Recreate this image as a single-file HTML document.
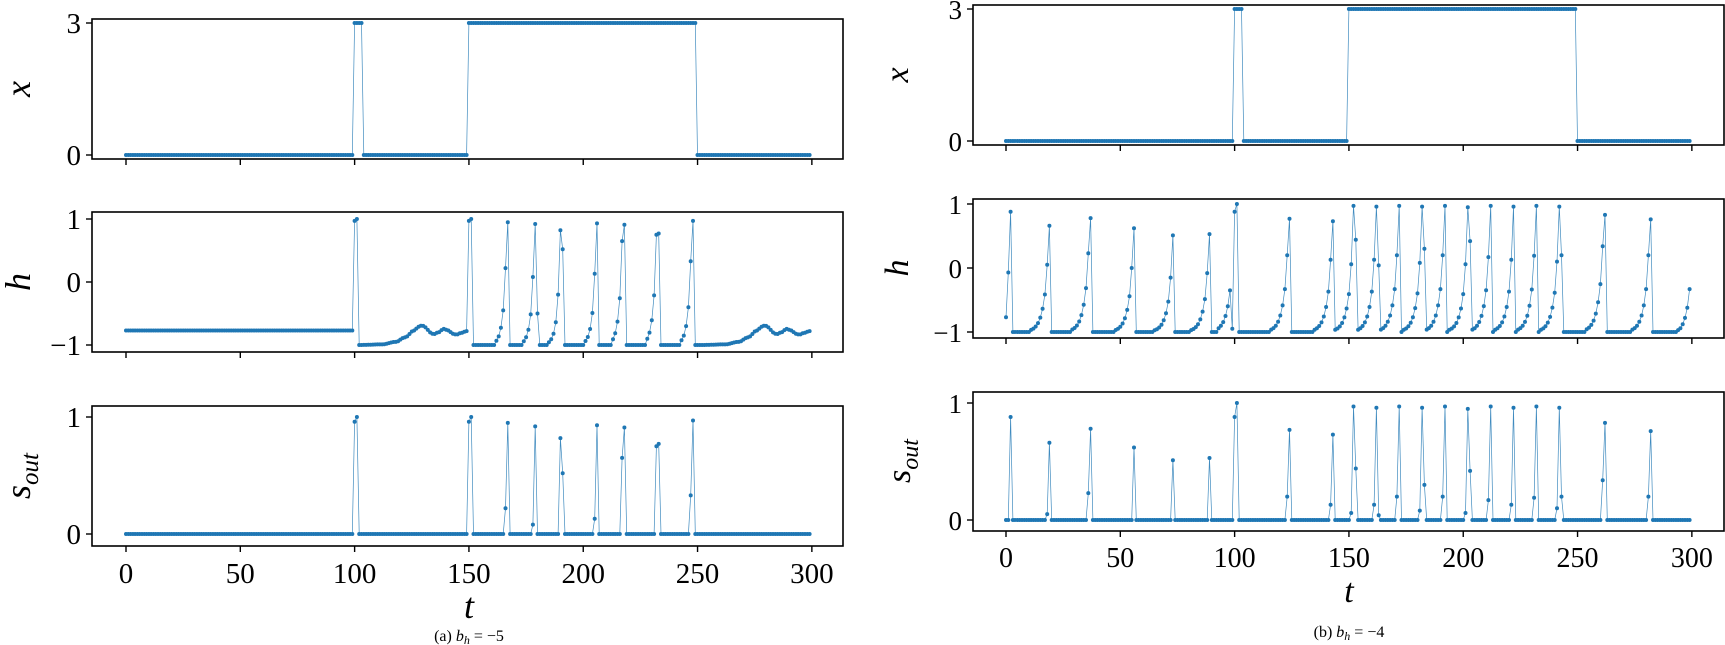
<!DOCTYPE html>
<html><head><meta charset="utf-8">
<style>
html,body{margin:0;padding:0;background:#fff;}
body{width:1725px;height:645px;overflow:hidden;}
svg{display:block;}
text{font-family:"Liberation Serif","DejaVu Serif",serif;fill:#000;}
</style></head>
<body>
<svg id="s" width="1725" height="645" viewBox="0 0 1725 645" xmlns="http://www.w3.org/2000/svg"></svg>
<script>
var C='#1f77b4';
var out=[];
var xL=[],hL=[],xR=[],hR=[];
for(var t=0;t<300;t++){
  var v=0;
  if(t>=100&&t<=103)v=3;
  if(t>=150&&t<=249)v=3;
  xL.push(v);xR.push(v);
}
var kp=[[102,-1],[112,-0.99],[118,-0.95],[122,-0.88],[126,-0.77],[128,-0.71],[129.5,-0.69],[131,-0.72],[133,-0.8],[134.5,-0.83],[136.5,-0.8],[139,-0.745],[141,-0.77],[143,-0.82],[144.5,-0.835],[146.5,-0.81],[149,-0.78]];
function interp(tt){
  if(tt<=kp[0][0])return -1;
  for(var i=1;i<kp.length;i++){if(tt<=kp[i][0]){var a=kp[i-1],b=kp[i];var f=(tt-a[0])/(b[0]-a[0]);f=(1-Math.cos(Math.PI*f))/2;return a[1]+(b[1]-a[1])*f;}}
  return kp[kp.length-1][1];
}
for(var t=0;t<300;t++){
  var h;
  if(t<100)h=-0.77;
  else {var t0=(t<150)?0:150; h=interp(t-t0);}
  hL.push(h);
}
for(var t=150;t<250;t++)hL[t]=-1;
hL[100]=0.97;hL[101]=1.0;hL[150]=0.97;hL[151]=1.0;
function addSpike(arr,T,peak,pre,post,fac,n){
  fac=fac||0.5;n=n||6;
  arr[T]=peak;
  if(pre!==null){arr[T-1]=pre;
    for(var k=2;k<n;k++){var v=-1+(pre+1)*Math.pow(fac,k-1)*0.9; if(arr[T-k]!==undefined && arr[T-k]<=-0.9) arr[T-k]=Math.max(arr[T-k],v);}
  }
  if(post!==undefined&&post!==null)arr[T+1]=post;
}
addSpike(hL,167,0.95,0.22);
addSpike(hL,179,0.92,0.08,-0.5);
addSpike(hL,190,0.82,-0.2,0.52);
addSpike(hL,206,0.93,0.13);
addSpike(hL,218,0.91,0.65);
addSpike(hL,233,0.77,0.75);
addSpike(hL,248,0.97,0.33);
for(var t=0;t<300;t++)hR.push(-1);
var sp=[[2,0.88,-0.07],[19,0.66,0.05],[37,0.78,0.23],[56,0.62,0.0],[73,0.51,-0.15],[89,0.53,-0.08],
[101,1.0,0.88],[124,0.77,0.2],[143,0.73,0.13],[152,0.97,0.06,0.44],[162,0.96,0.13,0.04],[172,0.97,0.2],
[182,0.96,0.08,0.3],[192,0.97,0.2],[202,0.95,0.06,0.42],[212,0.97,0.17],[222,0.96,0.13],[232,0.97,0.19],
[242,0.96,0.1,0.2],[262,0.83,0.34],[282,0.76,0.2]];
sp.forEach(function(s){addSpike(hR,s[0],s[1],s[2],s[3],0.62,9);});
hR[99]=-0.95; hR[100]=0.88;
hR[0]=-0.77;
hR[299]=-0.33;hR[298]=-0.62;hR[297]=-0.78;hR[296]=-0.88;hR[295]=-0.94;hR[294]=-0.97;
function sOut(h){return h.map(function(v){return Math.max(0,v);});}
var sL=sOut(hL), sR=sOut(hR);
sL[100]=0.96;sL[101]=1.0;sL[150]=0.96;sL[151]=1.0;

function series(X0,arr,Y0,k){
  var pts=[];for(var t=0;t<300;t++)pts.push([X0+t*2.2862,Y0-arr[t]*k]);
  var d='M'+pts.map(function(p){return p[0].toFixed(1)+','+p[1].toFixed(1);}).join('L');
  out.push('<path d="'+d+'" fill="none" stroke="'+C+'" stroke-width="0.7" stroke-opacity="0.85"/>');
  var c='';pts.forEach(function(p){c+='<circle cx="'+p[0].toFixed(1)+'" cy="'+p[1].toFixed(1)+'" r="2"/>';});
  out.push('<g fill="'+C+'">'+c+'</g>');
}
function box(x0,y0,x1,y1){
  out.push('<rect x="'+x0+'" y="'+y0+'" width="'+(x1-x0)+'" height="'+(y1-y0)+'" fill="none" stroke="#000" stroke-width="1.6"/>');
}
function xticks(X0,y1,labels,fs,ly){
  for(var i=0;i<=6;i++){var x=X0+i*50*2.2862;
    out.push('<line x1="'+x+'" y1="'+y1+'" x2="'+x+'" y2="'+(y1+6)+'" stroke="#000" stroke-width="1.4"/>');
    if(labels)out.push('<text x="'+x+'" y="'+ly+'" font-size="'+fs+'" text-anchor="middle">'+(i*50)+'</text>');
  }
}
function yticks(x0,vals,fs){
  vals.forEach(function(v){
    out.push('<line x1="'+(x0-6)+'" y1="'+v[0]+'" x2="'+x0+'" y2="'+v[0]+'" stroke="#000" stroke-width="1.4"/>');
    out.push('<text x="'+(x0-11)+'" y="'+(v[0]+10)+'" font-size="'+fs+'" text-anchor="end">'+v[1]+'</text>');
  });
}
function ylabel(x,y,txt,fs){
  out.push('<text transform="translate('+x+','+y+') rotate(-90)" font-size="'+fs+'" font-style="italic" text-anchor="middle">'+txt+'</text>');
}
var XL=126;
series(XL,xL,155,44);series(XL,hL,282,63);series(XL,sL,534,117);
box(92,19,843,159);box(92,212,843,352);box(92,406,843,546);
xticks(XL,159,false);xticks(XL,352,false);xticks(XL,546,true,29,583);
yticks(92,[[23,'3'],[155,'0']],29);
yticks(92,[[219,'1'],[282,'0'],[345,'\u22121']],29);
yticks(92,[[417,'1'],[534,'0']],29);
ylabel(30,89,'x',36);ylabel(30,282,'h',36);
out.push('<text transform="translate(30,476) rotate(-90)" font-size="36" font-style="italic" text-anchor="middle">s<tspan font-size="25" dy="8">out</tspan></text>');
out.push('<text x="469" y="618" font-size="36" font-style="italic" text-anchor="middle">t</text>');
out.push('<text x="469" y="641" font-size="16" text-anchor="middle">(a) <tspan font-style="italic">b</tspan><tspan font-size="12" font-style="italic" dy="3">h</tspan><tspan dy="-3"> = \u22125</tspan></text>');
var XR=1006;
series(XR,xR,141,44);series(XR,hR,268,64);series(XR,sR,520,117);
box(973,5,1724,145);box(973,199,1724,338);box(973,392,1724,531);
xticks(XR,145,false);xticks(XR,338,false);xticks(XR,531,true,28,567);
yticks(973,[[9,'3'],[141,'0']],27);
yticks(973,[[204,'1'],[268,'0'],[332,'\u22121']],27);
yticks(973,[[403,'1'],[520,'0']],27);
ylabel(908,75,'x',34);ylabel(908,268,'h',34);
out.push('<text transform="translate(910,461) rotate(-90)" font-size="34" font-style="italic" text-anchor="middle">s<tspan font-size="24" dy="8">out</tspan></text>');
out.push('<text x="1349" y="602" font-size="34" font-style="italic" text-anchor="middle">t</text>');
out.push('<text x="1349" y="637" font-size="16" text-anchor="middle">(b) <tspan font-style="italic">b</tspan><tspan font-size="12" font-style="italic" dy="3">h</tspan><tspan dy="-3"> = \u22124</tspan></text>');
document.getElementById('s').innerHTML=out.join('');
</script>
</body></html>
